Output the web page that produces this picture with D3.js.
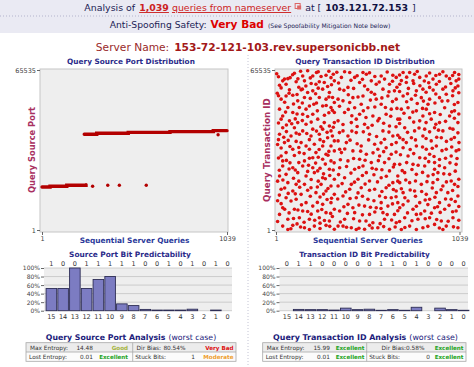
<!DOCTYPE html>
<html><head><meta charset="utf-8">
<script src="https://cdn.jsdelivr.net/npm/d3@7"></script>
<style>body{margin:0;background:#fff}svg{display:block}text{font-family:"DejaVu Sans",Verdana,sans-serif}</style>
</head><body><svg id="c" width="474" height="367"></svg>
<script>
// ---------------- data ----------------
const queryCount = "1,039";
const nameserverIP = "103.121.72.153";
const safetyRating = "Very Bad";
const serverName = "153-72-121-103.rev.supersonicbb.net";
const queryDomain = [1, 1039];
const valueDomain = [1, 65535];

// source port distribution (query index, port)
const portLowLine = [[1,17600],[46,17900],[140,18300],[248,18600]];
const portHighLine = [[238,39200],[308,39600],[485,40000],[719,40300],[962,40700],[1039,40700]];
const portStray = [[285,17900],[370,18300],[435,18300],[586,18300],[989,39000]];

// transaction id distribution (query index, id)
const txSamples = [
[180,65200],[105,64200],[68,62000],[49,61800],[39,61100],[81,62400],[152,63100],[209,63100],[256,62900],[284,63400],[312,62400],[331,61100],[246,60700],[162,61100],[115,60700],[21,59300],[58,59700],[274,60400],[293,58800],[227,59700],[77,57400],[143,57400],[180,56300],[209,57000],[265,57700],[303,56300],[321,54300],[58,54900],[96,55200],[30,53600],[124,52900],[162,54300],[246,54300],[284,53600],[331,52200],[21,49500],[68,50200],[133,50200],[171,49500],[190,50800],[265,50800],[312,50200],[39,46700],[96,48100],[152,47400],[209,47400],[331,48100],[30,45400],[77,44700],[124,44000],[171,43300],[237,45400],[274,44000],[303,42600],[331,44000],[39,41900],[105,41900],[152,40600],[209,41300],[265,41300],[312,40600],[21,39200],[86,38500],[133,39200],[199,38500],[246,39200],[293,37800],[331,36500],[49,35800],[143,35800],[171,34400],[218,35100],[265,34400],[312,34400],[190,33100],[96,33100],[30,30300],[58,31700],[133,31700],[227,31700],[284,31000],[331,32400],[39,28300],[162,28300],[209,29600],[265,29000],[312,28300],[39,26200],[96,25500],[152,26200],[209,25500],[237,24200],[303,24900],[58,22800],[124,23500],[171,22100],[218,23500],[265,21400],[331,20800],[21,22100],[68,19400],[115,18700],[162,18700],[199,17300],[256,18700],[312,18000],[30,16700],[96,16000],[143,14600],[227,15300],[284,16000],[331,14600],[58,13200],[86,11900],[115,12600],[171,11200],[209,9800],[265,10500],[312,11200],[39,9100],[105,8500],[152,7800],[237,7800],[284,7100],[331,8500],[21,6400],[68,4400],[133,5000],[190,4400],[246,5000],[303,3700],[39,1600],[96,1900],[162,900],[218,1600],[284,1900],[331,300],[68,200],[190,200],
[5,64000],[140,65000],[230,64500],[8,56000],[200,60000],[300,48000],[110,45500],[60,43000],[250,37000],[185,26500],[10,20000],[280,21000],[130,20000],[250,13500],[10,12000],[200,6500],[120,2500],[250,2800],[50,8500],[320,5500],[80,27500],[10,35000],[230,52000],[330,27500],[150,57700],[270,23000],[45,38000],
[15,62800],[95,63600],[125,61900],[195,62300],[240,64800],[300,65000],[325,63800],[30,58200],[130,58500],[170,59000],[240,58100],[315,59500],[15,55000],[75,56000],[120,55500],[195,53900],[225,55800],[300,54500],[50,52300],[100,51600],[150,52000],[215,51500],[285,51000],[320,49000],[55,48300],[120,47500],[180,46500],[235,48800],[275,47000],[15,43800],[90,43500],[150,44800],[200,44200],[255,42300],[325,42100],[60,40300],[115,39700],[175,39500],[230,40500],[290,40000],[15,37000],[70,36700],[115,36300],[190,37000],[270,36200],[320,38500],[30,33600],[80,34200],[130,33800],[245,33000],[300,32200],[15,29500],[105,30500],[160,31300],[190,29400],[240,29800],[295,30600],[60,28500],[130,27600],[225,27400],[280,27000],[20,24500],[75,25000],[110,24600],[180,24000],[250,25300],[325,24600],[40,20500],[100,21200],[200,20700],[240,20000],[305,22300],[50,17200],[135,17500],[180,16300],[235,17600],[295,17000],[20,14300],[70,15000],[110,14800],[195,13800],[270,14700],[315,13000],[30,10800],[145,10300],[235,11300],[290,12500],[75,7000],[125,8200],[180,7600],[260,8400],[310,6800],[10,3500],[100,4700],[160,3200],[220,4000],[275,3900],[85,500],[140,1200],[250,600],[305,1500],
[389,64800],[418,64500],[493,64500],[512,63800],[596,63100],[662,63400],[681,62500],[371,62500],[446,62500],[540,61100],[615,61800],[643,59700],[568,59700],[474,60400],[502,59000],[408,58400],[606,57700],[671,57000],[352,53600],[380,52900],[436,54200],[493,54900],[559,55600],[634,54900],[681,53600],[446,50100],[521,50100],[596,51500],[653,49500],[389,48100],[474,47400],[549,46700],[624,47400],[690,45400],[352,44700],[427,44000],[502,43300],[577,44700],[643,42600],[380,40600],[408,38500],[455,39900],[530,39200],[606,40600],[662,38500],[352,36500],[399,35800],[483,34400],[559,35100],[624,33700],[681,35800],[371,31700],[436,32400],[512,31000],[577,33100],[587,30300],[653,31000],[408,28300],[474,29000],[540,27600],[615,27600],[671,26900],[361,25500],[446,24900],[512,23500],[568,24900],[643,24200],[690,22100],[389,21400],[465,20800],[530,20100],[596,21400],[662,19400],[352,18000],[418,16700],[483,17300],[559,16700],[624,17300],[681,16000],[380,13900],[455,13200],[521,12600],[587,13900],[653,13200],[408,10500],[436,9100],[502,9800],[568,9100],[634,9800],[690,11200],[361,7800],[446,7100],[530,6400],[606,7100],[671,6400],[389,4400],[474,3700],[549,3000],[615,4400],[681,3000],[352,1600],[427,900],[502,300],[577,900],[643,300],[455,200],[530,1900],[418,52200],[483,51500],[361,57700],[568,53600],[455,45400],[521,41900],[615,37200],[361,33100],[493,26200],[427,18700],[596,11200],[380,1600],
[345,64600],[460,63200],[530,64400],[560,62900],[630,64700],[355,60200],[425,61300],[490,61700],[585,60600],[660,60900],[385,57200],[440,58000],[520,57500],[540,56400],[640,56600],[685,58500],[410,55400],[465,54500],[535,53200],[600,54100],[660,52600],[360,50700],[410,49400],[495,48800],[560,50400],[620,50200],[685,49800],[430,46800],[510,46100],[585,45700],[650,46600],[380,43200],[460,42400],[545,42900],[610,43700],[680,42300],[360,39900],[430,40500],[495,40200],[570,38300],[640,40100],[690,38800],[420,36800],[460,35300],[525,36900],[595,35700],[655,35000],[390,33200],[480,32300],[550,31600],[610,32100],[680,31900],[365,28800],[440,29300],[505,28600],[580,28400],[640,29200],[400,26000],[470,25600],[545,25300],[600,24700],[665,25800],[355,22700],[425,23300],[490,22300],[555,22600],[625,22000],[690,20000],[375,19000],[445,19600],[505,18800],[575,19700],[640,18300],[395,15600],[465,15200],[530,16300],[600,15800],[665,16600],[350,12700],[420,12900],[490,13800],[555,12000],[620,13300],[680,13600],[385,9500],[470,10200],[535,9300],[595,8800],[660,10700],[405,6800],[490,6200],[560,7400],[630,6300],[690,7900],[365,3300],[440,4600],[510,3700],[590,2600],[655,4100],[400,1100],[470,700],[545,800],[610,1400],[675,1200],
[720,64500],[757,64500],[785,63800],[814,62500],[851,63100],[889,61800],[926,63800],[964,63100],[983,62000],[1011,64500],[1020,61100],[1030,59000],[701,59700],[738,60400],[795,57000],[832,57700],[870,58400],[908,59700],[945,57700],[1002,57000],[720,54900],[767,53600],[823,54200],[870,53600],[926,54200],[973,52900],[1030,52200],[710,49500],[748,50100],[795,48800],[851,49500],[898,48100],[955,50100],[1011,48800],[701,45400],[757,46000],[814,44700],[879,45400],[926,44000],[983,46700],[1030,44000],[729,41900],[785,40600],[842,41300],[898,41900],[945,40600],[1002,41300],[701,37800],[767,37800],[832,38500],[879,36500],[936,37800],[992,37200],[1036,35800],[720,33700],[795,34400],[851,33100],[908,34400],[964,33100],[1020,32400],[748,30300],[814,29600],[870,31000],[926,28900],[992,30300],[701,26900],[776,26900],[842,26200],[898,27600],[955,25500],[1020,26900],[729,23500],[795,22800],[861,22100],[917,23500],[983,22800],[1035,20800],[701,19400],[757,19400],[823,18700],[889,19400],[945,18000],[1011,18700],[720,15300],[785,16000],[851,14600],[908,15300],[973,15300],[1030,13900],[748,11900],[814,11200],[870,12600],[926,11200],[992,12600],[701,9100],[776,8500],[842,7800],[898,9100],[955,8500],[1020,7800],[729,5000],[804,4400],[870,5000],[936,3700],[1002,5000],[757,1600],[832,900],[898,2300],[964,1600],[1030,900],[710,200],[795,200],[945,200],[776,61100],[861,51500],[964,55600],[738,35800],[898,24900],[795,6400],[992,20100],[832,46700],
[700,63500],[740,62600],[800,64900],[870,64300],[905,63300],[945,64800],[1000,63300],[1035,63700],[710,61200],[780,60000],[840,61000],[865,60300],[925,60800],[990,60000],[1035,61800],[750,58000],[815,59100],[890,57300],[960,58600],[1015,58200],[700,56700],[745,55800],[790,55200],[850,56400],[905,55700],[1000,55000],[1035,56200],[740,52500],[800,51800],[835,52800],[900,52000],[940,52800],[1010,51400],[725,47800],[775,48300],[830,49800],[870,47600],[930,47300],[995,48400],[1035,47500],[700,43600],[780,44200],[850,44000],[905,43300],[960,44500],[1010,45800],[745,40000],[810,41800],[870,40200],[920,40900],[985,41700],[1030,39800],[720,37000],[790,36900],[850,37500],[910,38000],[965,36300],[1010,37900],[760,33000],[830,34000],[885,33500],[940,32500],[995,34000],[1035,32900],[705,30800],[780,31300],[845,29400],[895,30100],[960,29400],[1025,29300],[740,27600],[805,26500],[865,28000],[925,26300],[985,27500],[715,24300],[770,24800],[830,23600],[890,22700],[950,23000],[1015,24100],[735,20500],[790,20100],[855,19800],[915,20700],[965,19700],[1030,17800],[710,16900],[760,16400],[825,15800],[885,17200],[935,16500],[1000,16200],[730,13200],[790,13800],[845,12300],[900,13400],[960,12700],[1015,11700],[720,10300],[795,9700],[860,10400],[915,9500],[980,10100],[1035,9600],[745,7000],[820,6600],[880,6900],[930,7200],[1000,7500],[700,3500],[770,3800],[845,4600],[910,4300],[975,3600],[1035,4000],[730,1000],[860,1500],[925,800],[1005,1300]
];

// bit predictability
const bitLabels = ["15","14","13","12","11","10","9","8","7","6","5","4","3","2","1","0"];
const portBitPred = [52,52,100,52,73,80,16,12,3,1.5,1.5,1.5,3.5,0,1.5,0];
const portBitValue = ["1","0","0","1","1","1","1","1","0","0","1","0","1","0","1","0"];
const txBitPred = [0,3,2.5,2.5,1.5,6,2.5,3.5,1,2.5,1,8,0,6,2.5,1];
const txBitValue = ["0","1","1","0","0","0","0","0","1","1","0","1","0","0","0","0"];
const pctTicks = [0,20,40,60,80,100];

// analysis tables
const portAnalysis = {maxEntropy:"14.48", maxRating:"Good", dirBias:"80.54%", dirRating:"Very Bad", lostEntropy:"0.01", lostRating:"Excellent", stuckBits:"1", stuckRating:"Moderate"};
const txAnalysis = {maxEntropy:"15.99", maxRating:"Excellent", dirBias:"0.58%", dirRating:"Excellent", lostEntropy:"0.01", lostRating:"Excellent", stuckBits:"0", stuckRating:"Excellent"};
const ratingColors = {"Excellent":"#22a322","Good":"#a3b23a","Moderate":"#eea030","Very Bad":"#dd1111"};

// ---------------- drawing ----------------
const svg = d3.select("#c");
const NAVY = "#2b2b8a";

function run(g, pieces, cx, y, targetW){
  const nodes = pieces.map(p => {
    if (p.icon) return null;
    return g.append("text").attr("y", y).attr("font-size", p.size)
      .attr("font-weight", p.bold ? "bold" : "normal").attr("fill", p.fill)
      .attr("text-decoration", p.u ? "underline" : null).text(p.t);
  });
  const wOf = i => nodes[i] ? nodes[i].node().getComputedTextLength() : pieces[i].w;
  const measure = () => pieces.reduce((s,p,i) => s + wOf(i) + (p.gap||0), 0);
  let w = measure();
  if (targetW) {
    const k = targetW / w;
    pieces.forEach((p,i) => { if (nodes[i]) nodes[i].attr("font-size", p.size*k); });
    w = measure();
  }
  let x = cx - w/2;
  pieces.forEach((p,i) => {
    if (nodes[i]) nodes[i].attr("x", x);
    else p.draw(x);
    x += wOf(i) + (p.gap||0);
  });
}
function fit(sel, targetW){
  const w = sel.node().getComputedTextLength();
  const s = +sel.attr("font-size");
  sel.attr("font-size", s*targetW/w);
  return sel;
}

// header
svg.append("rect").attr("x",0).attr("y",0).attr("width",474).attr("height",33).attr("fill","#eaeaf3");
svg.append("line").attr("x1",0).attr("x2",474).attr("y1",16).attr("y2",16).attr("stroke","#b4b4cc").attr("stroke-dasharray","1,2");
const hg = svg.append("g");
run(hg, [
  {t:"Analysis of", size:10, fill:"#1c1c55", gap:4},
  {t:queryCount, size:10, bold:true, fill:"#cc2222", u:true, gap:3},
  {t:"queries from nameserver", size:10, fill:"#cc2222", u:true, gap:3},
  {icon:true, w:7, gap:4, draw:x => {
    hg.append("rect").attr("x",x+1).attr("y",3.5).attr("width",5).attr("height",5).attr("fill","none").attr("stroke","#dd6666").attr("stroke-width",1);
    hg.append("rect").attr("x",x+3).attr("y",5.5).attr("width",4).attr("height",4).attr("fill","#dd6666");
  }},
  {t:"at [", size:10, fill:"#1c1c55", gap:4},
  {t:nameserverIP, size:10, bold:true, fill:"#101040", gap:4},
  {t:"]", size:10, fill:"#1c1c55"}
], 250, 11, 330);
run(hg, [
  {t:"Anti-Spoofing Safety:", size:10, fill:"#1c1c55", gap:4},
  {t:safetyRating, size:11.5, bold:true, fill:"#dd0000", gap:4},
  {t:"(See Spoofability Mitigation Note below)", size:6.6, fill:"#1c1c55"}
], 250, 28, 280);
run(hg, [
  {t:"Server Name:", size:12, fill:"#992a2a", gap:5},
  {t:serverName, size:12, bold:true, fill:"#a31818"}
], 248, 51, 304);

// separator
svg.append("line").attr("x1",248).attr("x2",248).attr("y1",55).attr("y2",367).attr("stroke","#c4c4d4").attr("stroke-dasharray","1,2");

// scatter panels
function scatterPanel(o){
  const g = svg.append("g");
  g.append("rect").attr("x",o.x0).attr("y",69).attr("width",o.x1-o.x0).attr("height",163).attr("fill","#eeeeee").attr("stroke","#c6c6c6");
  const x = d3.scaleLinear().domain(queryDomain).range([o.dx0, o.dx1]);
  const y = d3.scaleLinear().domain(valueDomain).range([230, 70]);
  const fmt = d3.format("d");
  const ya = g.append("g").attr("transform",`translate(${o.x0},0)`).call(d3.axisLeft(y).tickValues(valueDomain).tickFormat(fmt).tickSize(3).tickPadding(1));
  const xa = g.append("g").attr("transform",`translate(0,232)`).call(d3.axisBottom(x).tickValues(queryDomain).tickFormat(fmt).tickSize(3).tickPadding(1));
  [ya,xa].forEach(a => { a.select(".domain").remove(); a.selectAll("text").attr("font-size",6.5).attr("fill","#444").attr("font-family","DejaVu Sans"); a.selectAll("line").attr("stroke","#666"); });
  fit(g.append("text").attr("x",o.tc).attr("y",64).attr("text-anchor","middle").attr("font-size",8).attr("font-weight","bold").attr("fill",NAVY).text(o.title), o.tw);
  fit(g.append("text").attr("x",(o.dx0+o.dx1)/2).attr("y",242.5).attr("text-anchor","middle").attr("font-size",8).attr("font-weight","bold").attr("fill","#2b3a9a").text("Sequential Server Queries"), 110);
  fit(g.append("text").attr("transform",`translate(${o.ylx},150) rotate(-90)`).attr("text-anchor","middle").attr("font-size",8).attr("font-weight","bold").attr("fill","#a8305f").text(o.ylabel), o.ylw);
  return {g,x,y};
}
const L = scatterPanel({x0:40,x1:228,dx0:42,dx1:227,tc:131,tw:128,title:"Query Source Port Distribution",ylx:35,ylabel:"Query Source Port",ylw:86});
const portLine = d3.line().x(d=>L.x(d[0])).y(d=>L.y(d[1])).curve(d3.curveStepAfter);
[portLowLine, portHighLine].forEach(seg => L.g.append("path").attr("d",portLine(seg)).attr("fill","none").attr("stroke","#b30000").attr("stroke-width",3.4).attr("stroke-linecap","round"));
L.g.selectAll("circle.s").data(portStray).join("circle").attr("cx",d=>L.x(d[0])).attr("cy",d=>L.y(d[1])).attr("r",1.7).attr("fill","#b30000");

const R = scatterPanel({x0:275,x1:462,dx0:276,dx1:459.5,tc:365,tw:140,title:"Query Transaction ID Distribution",ylx:270,ylabel:"Query Transaction ID",ylw:104});
R.g.selectAll("circle.t").data(txSamples).join("circle").attr("cx",d=>R.x(d[0])).attr("cy",d=>R.y(d[1])).attr("r",1.8).attr("fill","#dd1111");

// bar panels
function barPanel(o){
  const g = svg.append("g");
  const x = d3.scaleBand().domain(bitLabels).range([o.x0+1.5, o.x1+1.5]).paddingInner(0.1).paddingOuter(0.05);
  const y = d3.scaleLinear().domain([0,100]).range([310.7, 268]);
  g.append("rect").attr("x",o.x0).attr("y",268).attr("width",o.x1-o.x0).attr("height",42.7).attr("fill","#eeeeee");
  g.selectAll("line.grid").data(pctTicks).join("line").attr("x1",o.x0).attr("x2",o.x1).attr("y1",d=>y(d)).attr("y2",d=>y(d)).attr("stroke","#c4c4c4").attr("stroke-width",0.8);
  const ya = g.append("g").attr("transform",`translate(${o.x0},0)`).call(d3.axisLeft(y).tickValues(pctTicks).tickFormat(d=>d+"%").tickSize(3).tickPadding(1));
  ya.select(".domain").remove();
  ya.selectAll("text").attr("font-size",6).attr("fill","#444").attr("font-family","DejaVu Sans");
  ya.selectAll("line").attr("stroke","#666");
  g.selectAll("rect.bar").data(o.values).join("rect")
    .attr("x",(d,i)=>x(bitLabels[i])).attr("width",x.bandwidth())
    .attr("y",d=>y(d)).attr("height",d=>Math.max(0,310.7-y(d)))
    .attr("fill","#7c7cc2").attr("stroke","#2e2e55").attr("stroke-width",0.9);
  g.selectAll("text.bl").data(bitLabels).join("text").attr("x",d=>x(d)+x.bandwidth()/2).attr("y",318.5).attr("text-anchor","middle").attr("font-size",6.5).attr("fill","#333").text(d=>d);
  g.selectAll("text.bv").data(o.bits).join("text").attr("x",(d,i)=>x(bitLabels[i])+x.bandwidth()/2).attr("y",266.3).attr("text-anchor","middle").attr("font-size",6.5).attr("fill","#333").text(d=>d);
  fit(g.append("text").attr("x",o.tc).attr("y",257).attr("text-anchor","middle").attr("font-size",8).attr("font-weight","bold").attr("fill",NAVY).text(o.title), o.tw);
}
barPanel({x0:44,x1:232,values:portBitPred,bits:portBitValue,title:"Source Port Bit Predictability",tc:130,tw:122});
barPanel({x0:279.5,x1:468,values:txBitPred,bits:txBitValue,title:"Transaction ID Bit Predictability",tc:364.5,tw:131});

// analysis tables
function table(o, a){
  const g = svg.append("g");
  run(g, [
    {t:o.title, size:9, bold:true, fill:"#20207a", gap:3},
    {t:"(worst case)", size:9, fill:"#20207a"}
  ], o.tc, 339.5, o.tw);
  g.append("rect").attr("x",o.x0).attr("y",342.7).attr("width",o.x1-o.x0).attr("height",9.3).attr("fill","#ececec");
  g.append("rect").attr("x",o.x0).attr("y",352).attr("width",o.x1-o.x0).attr("height",9.3).attr("fill","#fbfbfb");
  g.append("rect").attr("x",o.x0).attr("y",342.7).attr("width",o.x1-o.x0).attr("height",18.6).attr("fill","none").attr("stroke","#a8a8a8").attr("stroke-width",0.8);
  g.append("line").attr("x1",o.x0).attr("x2",o.x1).attr("y1",352).attr("y2",352).attr("stroke","#a8a8a8").attr("stroke-width",0.8);
  g.append("line").attr("x1",o.xm).attr("x2",o.xm).attr("y1",342.7).attr("y2",361.3).attr("stroke","#a8a8a8").attr("stroke-width",0.8);
  const t = (x, y, s, anchor, fill, bold) => g.append("text").attr("x",x).attr("y",y).attr("text-anchor",anchor).attr("font-size",bold?5.6:5.8).attr("fill",fill||"#333").attr("font-weight",bold?"bold":"normal").text(s);
  const y1 = 349.8, y2 = 359.1;
  t(o.x0+4, y1, "Max Entropy:", "start");
  t(o.v1, y1, a.maxEntropy, "end");
  t(o.r1, y1, a.maxRating, "end", ratingColors[a.maxRating], true);
  t(o.db, y1, "Dir Bias:", "end");
  t(o.dv, y1, a.dirBias, "end");
  t(o.x1-2.5, y1, a.dirRating, "end", ratingColors[a.dirRating], true);
  t(o.x0+3, y2, "Lost Entropy:", "start");
  t(o.v1, y2, a.lostEntropy, "end");
  t(o.r1, y2, a.lostRating, "end", ratingColors[a.lostRating], true);
  t(o.xm+2.5, y2, "Stuck Bits:", "start");
  t(o.sv, y2, a.stuckBits, "end");
  t(o.x1-2.5, y2, a.stuckRating, "end", ratingColors[a.stuckRating], true);
}
table({title:"Query Source Port Analysis", tc:131, tw:170, x0:26, x1:236, xm:132.7, v1:93, r1:128, db:161, dv:185.5, sv:195}, portAnalysis);
table({title:"Query Transaction ID Analysis", tc:365.5, tw:185, x0:262.7, x1:466, xm:366.7, v1:330, r1:364.5, db:406, dv:424.5, sv:430}, txAnalysis);
</script></body></html>
